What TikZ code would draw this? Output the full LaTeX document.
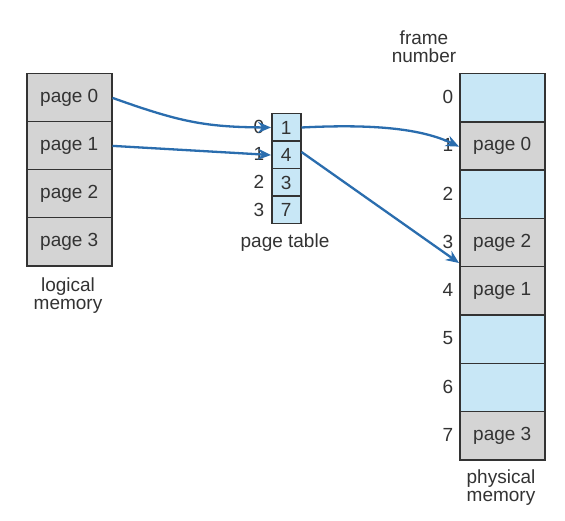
\documentclass[tikz,border=0pt]{standalone}
\usepackage{fontspec}
\setmainfont{Liberation Sans}
\usetikzlibrary{arrows.meta}
\definecolor{cellgray}{HTML}{D4D4D4}
\definecolor{cellblue}{HTML}{C8E7F6}
\definecolor{arrowblue}{HTML}{2A6DAE}
\definecolor{txt}{HTML}{333333}
\begin{document}
\begin{tikzpicture}[x=1pt,y=-1pt,
  lbl/.style={font=\fontsize{19}{21}\selectfont, text=txt},
  grayblk/.style={draw=black!80, line width=1.5pt, fill=cellgray, minimum width=85pt, minimum height=48.25pt, inner sep=0pt, lbl},
  blueblk/.style={draw=black!80, line width=1.5pt, fill=cellblue, minimum width=85pt, minimum height=48.25pt, inner sep=0pt},
  ptcell/.style={draw=black!80, line width=1.5pt, fill=cellblue, minimum width=29pt, minimum height=27.5pt, inner sep=0pt, lbl},
  conn/.style={draw=arrowblue, line width=2.3pt, -{Stealth[length=13pt,width=11pt]}}
]
\useasboundingbox[fill=white] (0,0) rectangle (565,521);
% logical memory
\foreach \i in {0,...,3}{
  \node[grayblk, anchor=north west] (l\i) at (26,{73+48*\i}) {page \i};
}
\node[lbl, align=center] (lmlabel) at (68,296) {logical\\[-3pt]memory};
% page table
\node[ptcell, anchor=north west] (p0) at (271,113) {1};
\node[ptcell, anchor=north west] (p1) at (271,140.5) {4};
\node[ptcell, anchor=north west] (p2) at (271,168) {3};
\node[ptcell, anchor=north west] (p3) at (271,195.5) {7};
\node[lbl] (pi0) at (259,127) {0};
\node[lbl] (pi1) at (259,154) {1};
\node[lbl] (pi2) at (259,182) {2};
\node[lbl] (pi3) at (259,210) {3};
\node[lbl] (ptlabel) at (285,243) {page table};
% physical memory
\node[blueblk, anchor=north west] (f0) at (459,73) {};
\node[grayblk, anchor=north west] (f1) at (459,121.25) {page 0};
\node[blueblk, anchor=north west] (f2) at (459,169.5) {};
\node[grayblk, anchor=north west] (f3) at (459,217.75) {page 2};
\node[grayblk, anchor=north west] (f4) at (459,266) {page 1};
\node[blueblk, anchor=north west] (f5) at (459,314.25) {};
\node[blueblk, anchor=north west] (f6) at (459,362.5) {};
\node[grayblk, anchor=north west] (f7) at (459,410.75) {page 3};
\foreach \i in {0,...,7}{
  \node[lbl] (fn\i) at (448,{97+48.25*\i}) {\i};
}
\node[lbl, align=center] (fnlabel) at (424,47) {frame\\[-3pt]number};
\node[lbl, align=center] (pmlabel) at (501,488) {physical\\[-3pt]memory};
% connectors
\draw[conn] (l0.east) .. controls (180,122) and (205,127) .. (p0.west);
\draw[conn] (l1.east) -- (p1.west);
\draw[conn] (p0.east) .. controls (370,124) and (420,128) .. ([yshift=-0.5pt]f1.west);
\coordinate (f4top) at (459,263);
\draw[conn] ([yshift=3pt]p1.east) -- (f4top);
\end{tikzpicture}
\end{document}
